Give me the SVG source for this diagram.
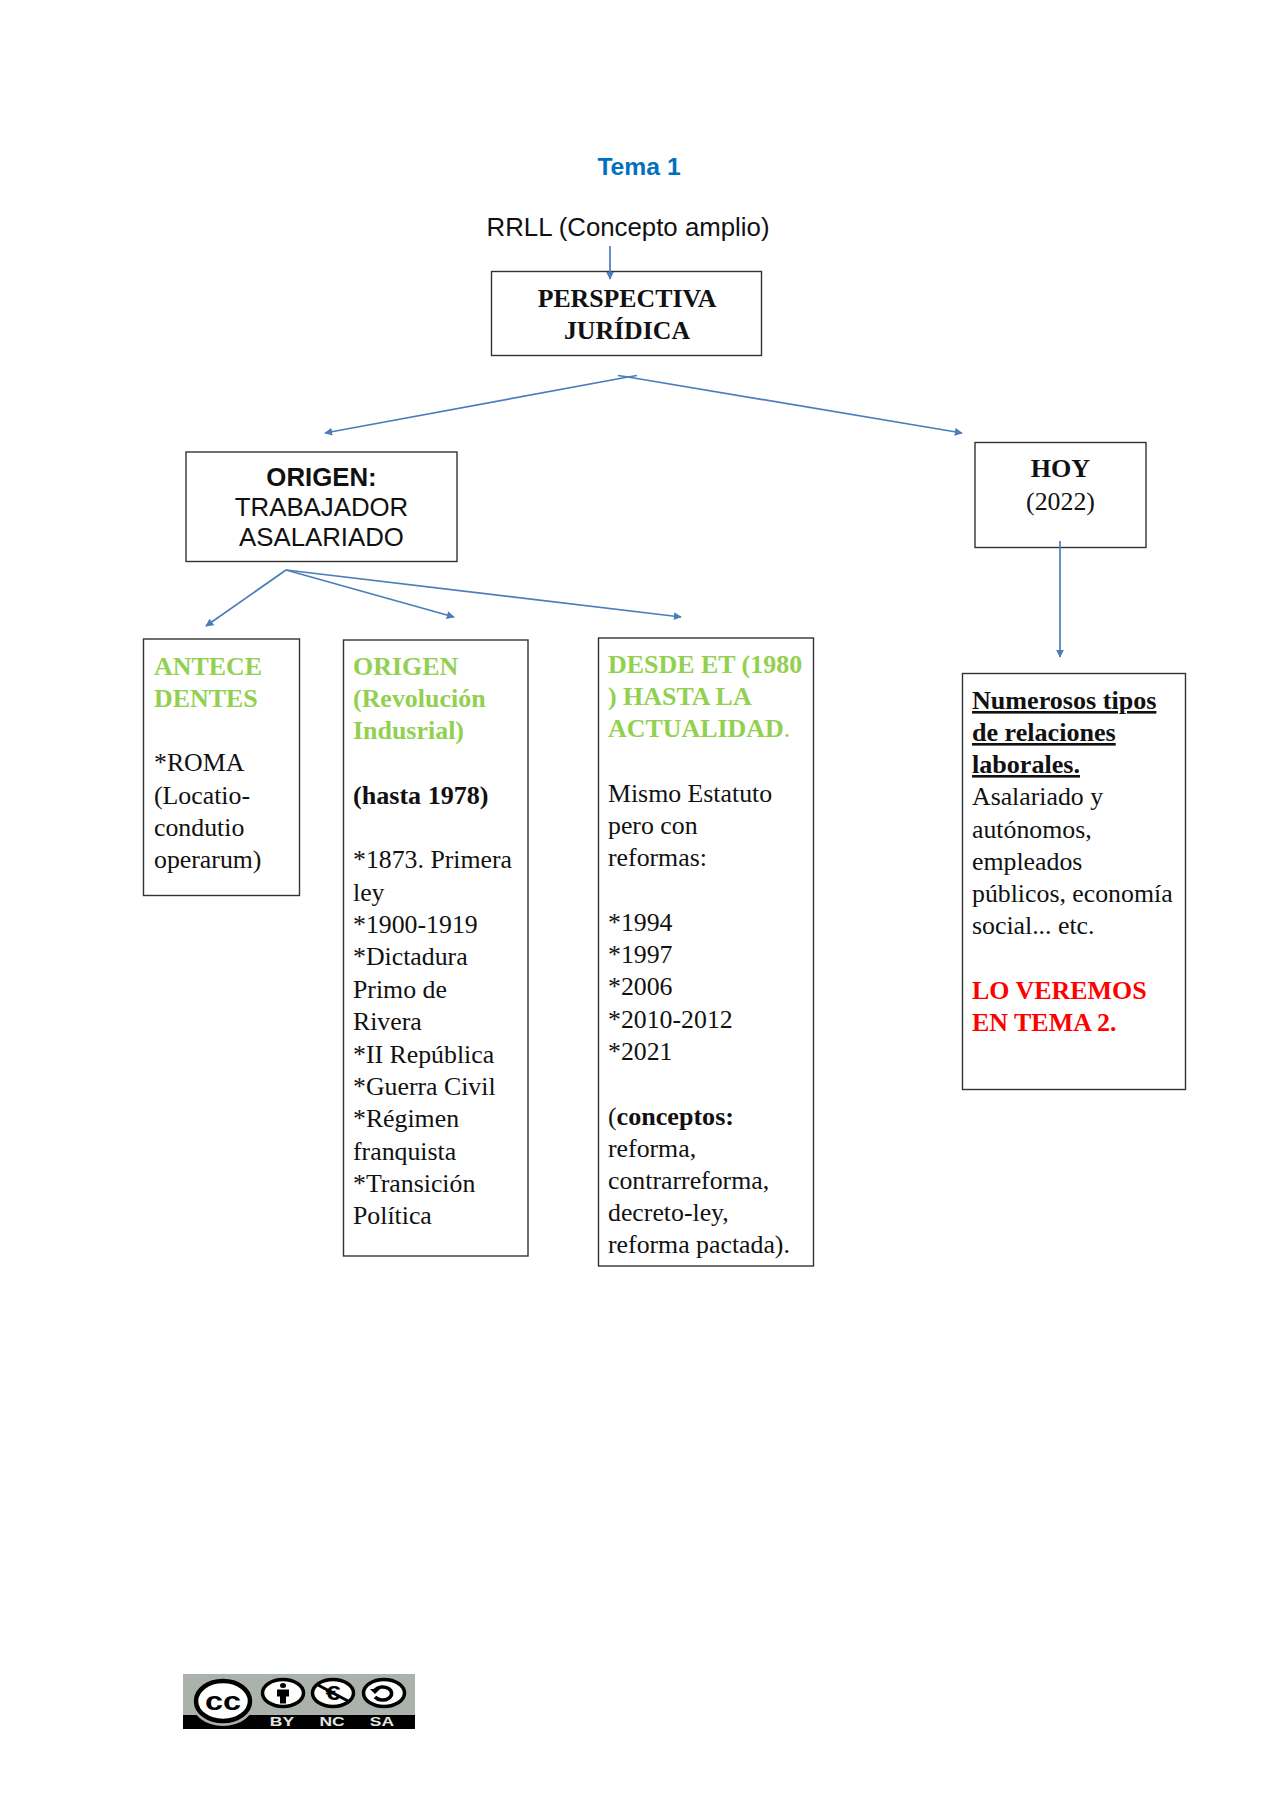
<svg xmlns="http://www.w3.org/2000/svg" width="1280" height="1811" viewBox="0 0 1280 1811">
<style>
.box{fill:#fff;stroke:#333;stroke-width:1.4}
.c{fill:none;stroke:#4a7ebb;stroke-width:1.7}
.s{font-family:"Liberation Sans",Arial,sans-serif;fill:#111}
.t{font-family:"Liberation Serif","Times New Roman",serif;font-size:25.8px;fill:#111}
.g{fill:#92d050;font-weight:700;font-size:25.95px}
.b{font-weight:700;font-size:26.1px}
.r{fill:#f00;font-weight:700;font-size:25.95px}
.m{text-anchor:middle}
.u{text-decoration:underline}
.k{fill:#000}
.w{fill:#fff}
</style>
<defs>
<marker id="a" viewBox="0 0 10 10" refX="9" refY="5" markerWidth="8" markerHeight="8" markerUnits="userSpaceOnUse" orient="auto"><path d="M0 0L10 5L0 10z" fill="#4a7ebb"/></marker>
</defs>
<rect width="1280" height="1811" fill="#fff"/>
<text id="titulo" class="s m" font-weight="700" x="639" y="175" font-size="24.700" style="fill:#0070c0">Tema 1</text>
<text id="rrll" class="s m" x="628" y="236" font-size="25.800">RRLL (Concepto amplio)</text>
<g id="perspectiva"><rect class="box" x="491.500" y="271.500" width="270" height="84"/>
<text class="t m" font-weight="700" x="627" y="307">PERSPECTIVA<tspan x="627" y="339">JURÍDICA</tspan></text></g>
<g id="origen"><rect class="box" x="186" y="452" width="271" height="109.500"/>
<text class="s m" font-size="25.800" x="321.500" y="486"><tspan font-weight="700">ORIGEN:</tspan><tspan x="321.500" y="516">TRABAJADOR</tspan><tspan x="321.500" y="546">ASALARIADO</tspan></text></g>
<g id="hoy"><rect class="box" x="975" y="442.500" width="171" height="105"/>
<text class="t m" x="1060.500" y="477"><tspan class="b">HOY</tspan><tspan x="1060.500" y="510">(2022)</tspan></text></g>
<g id="antecedentes"><rect class="box" x="143.500" y="639" width="156" height="256.500"/>
<text class="t" x="154" y="675"><tspan class="g">ANTECE</tspan><tspan class="g" x="154" y="707">DENTES</tspan><tspan x="154" y="771">*ROMA</tspan><tspan x="154" y="804">(Locatio-</tspan><tspan x="154" y="836">condutio</tspan><tspan x="154" y="868">operarum)</tspan></text></g>
<g id="revolucion"><rect class="box" x="343.500" y="640" width="184.500" height="616"/>
<text class="t" x="353" y="675"><tspan class="g">ORIGEN</tspan><tspan class="g" x="353" y="707">(Revolución</tspan><tspan class="g" x="353" y="739">Indusrial)</tspan><tspan class="b" x="353" y="804">(hasta 1978)</tspan><tspan x="353" y="868">*1873. Primera</tspan><tspan x="353" y="901">ley</tspan><tspan x="353" y="933">*1900-1919</tspan><tspan x="353" y="965">*Dictadura</tspan><tspan x="353" y="998">Primo de</tspan><tspan x="353" y="1030">Rivera</tspan><tspan x="353" y="1063">*II República</tspan><tspan x="353" y="1095">*Guerra Civil</tspan><tspan x="353" y="1127">*Régimen</tspan><tspan x="353" y="1160">franquista</tspan><tspan x="353" y="1192">*Transición</tspan><tspan x="353" y="1224">Política</tspan></text></g>
<g id="desde"><rect class="box" x="598.500" y="638" width="215" height="628"/>
<text class="t" x="608" y="673"><tspan class="g">DESDE ET (1980</tspan><tspan class="g" x="608" y="705">) HASTA LA</tspan><tspan class="g" x="608" y="737">ACTUALIDAD</tspan><tspan style="fill:#92d050">.</tspan><tspan x="608" y="802">Mismo Estatuto</tspan><tspan x="608" y="834">pero con</tspan><tspan x="608" y="866">reformas:</tspan><tspan x="608" y="931">*1994</tspan><tspan x="608" y="963">*1997</tspan><tspan x="608" y="995">*2006</tspan><tspan x="608" y="1028">*2010-2012</tspan><tspan x="608" y="1060">*2021</tspan><tspan x="608" y="1125">(</tspan><tspan class="b">conceptos:</tspan><tspan x="608" y="1157">reforma,</tspan><tspan x="608" y="1189">contrarreforma,</tspan><tspan x="608" y="1221">decreto-ley,</tspan><tspan x="608" y="1253">reforma pactada).</tspan></text></g>
<g id="numerosos"><rect class="box" x="962.500" y="673.500" width="223" height="416"/>
<text class="t" x="972" y="709"><tspan class="b u">Numerosos tipos</tspan><tspan class="b u" x="972" y="741">de relaciones</tspan><tspan class="b u" x="972" y="773">laborales.</tspan><tspan x="972" y="805">Asalariado y</tspan><tspan x="972" y="838">autónomos,</tspan><tspan x="972" y="870">empleados</tspan><tspan x="972" y="902">públicos, economía</tspan><tspan x="972" y="934">social... etc.</tspan><tspan class="r" x="972" y="999">LO VEREMOS</tspan><tspan class="r" x="972" y="1031">EN TEMA 2.</tspan></text></g>
<g id="conectores">
<path class="c" d="M610 246V279" marker-end="url(#a)"/>
<path class="c" d="M628 377L325 433" marker-end="url(#a)"/>
<path class="c" d="M628 377L962 433" marker-end="url(#a)"/>
<path class="c" stroke-width="1" d="M618 375.500L628 377L637 375.500"/>
<path class="c" d="M1060 541V657" marker-end="url(#a)"/>
<path class="c" d="M286 570L206 626" marker-end="url(#a)"/>
<path class="c" d="M286 570L454 617" marker-end="url(#a)"/>
<path class="c" d="M286 570L681 617" marker-end="url(#a)"/>
</g>
<g id="licencia">
<rect x="183" y="1674" width="232" height="41" fill="#aab2ab"/>
<rect x="183" y="1715" width="232" height="14" fill="#000"/>
<ellipse cx="223" cy="1701" rx="32" ry="25" fill="#aab2ab"/>
<ellipse cx="223" cy="1701" rx="27" ry="20" fill="#fff" stroke="#000" stroke-width="4.500"/>
<text class="s m k" font-weight="700" font-size="26" transform="translate(223 1710) scale(1.25 1)" style="fill:#000">cc</text>
<g fill="#fff" stroke="#000" stroke-width="3.500"><ellipse cx="283" cy="1693" rx="20.500" ry="13.500"/><ellipse cx="333" cy="1693" rx="20.500" ry="13.500"/><ellipse cx="384" cy="1693" rx="20.500" ry="13.500"/></g>
<ellipse cx="283" cy="1685.500" rx="3" ry="2.500" class="k"/>
<path class="k" d="M277 1689.500h12v7h-3v7h-6v-7h-3z"/>
<text class="s m" font-weight="700" font-size="21" transform="translate(333 1700) scale(1.3 1)" style="fill:#000">€</text>
<path d="M318 1685L348 1701" stroke="#000" stroke-width="3" fill="none"/>
<path d="M375 1690A9 6.500 0 1 1 375 1697" fill="none" stroke="#000" stroke-width="3.500"/>
<path class="k" d="M370 1689h10l-5 5z"/>
<g font-size="12.500" font-weight="700"><text class="s m" transform="translate(282 1726) scale(1.4 1)" style="fill:#e4e6e4">BY</text><text class="s m" transform="translate(332 1726) scale(1.4 1)" style="fill:#e4e6e4">NC</text><text class="s m" transform="translate(382 1726) scale(1.4 1)" style="fill:#e4e6e4">SA</text></g>
</g>
</svg>
